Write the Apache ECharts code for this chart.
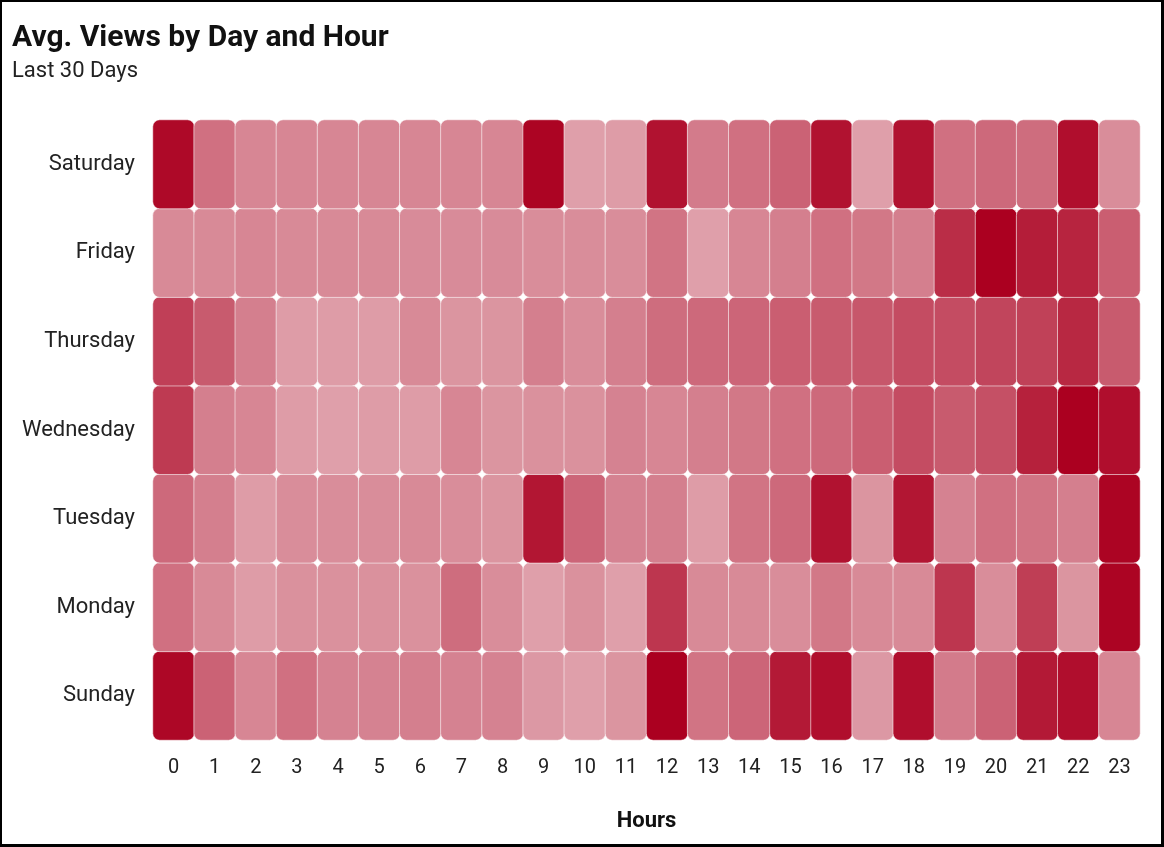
<!DOCTYPE html>
<html>
<head>
<meta charset="utf-8">
<script src="https://cdn.jsdelivr.net/npm/echarts@6/dist/echarts.min.js"></script>
<style>
  html, body { margin: 0; padding: 0; background: #fff; }
  #wrap { position: relative; width: 1164px; height: 847px; }
  #chart { position: absolute; left: 0; top: 0; width: 1164px; height: 847px; }
  #frame { position: absolute; left: 0; top: 0; width: 1164px; height: 847px; border-style: solid; border-color: #000; border-width: 2px 3px 3px 2px; box-sizing: border-box; pointer-events: none; }
</style>
</head>
<body>
<div id="wrap"><div id="chart"></div><div id="frame"></div></div>
<script>
const hours = ['0','1','2','3','4','5','6','7','8','9','10','11','12','13','14','15','16','17','18','19','20','21','22','23'];
const days = ['Sunday','Monday','Tuesday','Wednesday','Thursday','Friday','Saturday'];

const sunday    = [96,46,26,38,28,28,30,28,28,16,12,18,100,36,44,86,92,16,92,32,46,86,92,26];
const monday    = [38,24,14,20,20,20,20,40,22,12,20,12,70,24,24,22,34,24,24,70,22,66,18,98];
const tuesday   = [42,30,14,22,22,22,24,22,18,88,44,28,30,14,36,42,90,18,88,28,38,36,30,98];
const wednesday = [68,30,26,14,12,14,14,26,18,20,20,28,26,30,34,38,42,48,58,50,56,82,100,92];
const thursday  = [65,50,30,14,14,14,24,18,18,30,22,30,40,42,44,48,50,52,58,58,62,64,78,50];
const friday    = [24,24,26,24,24,24,23,23,23,22,22,22,36,12,26,30,38,34,30,75,100,84,80,48];
const saturday  = [95,38,26,26,26,26,26,26,26,98,12,14,90,32,38,46,90,12,90,38,42,40,92,22];

const rows = [sunday, monday, tuesday, wednesday, thursday, friday, saturday];
const data = [];
rows.forEach((row, d) => row.forEach((v, h) => data.push([h, d, v])));

const chart = echarts.init(document.getElementById('chart'));
const font = 'Roboto, "Noto Sans", sans-serif';
chart.setOption({
  animation: false,
  backgroundColor: '#fff',
  title: [
    { text: 'Avg. Views by Day and Hour', left: 12, top: 23, padding: 0,
      textStyle: { fontFamily: font, fontSize: 30, fontWeight: 'bold', color: '#111' } },
    { text: 'Last 30 Days', left: 12, top: 60, padding: 0,
      textStyle: { fontFamily: font, fontSize: 22, fontWeight: 'normal', color: '#222' } }
  ],
  grid: { left: 153, right: 24, top: 120, bottom: 107 },
  xAxis: {
    type: 'category', data: hours,
    name: 'Hours', nameLocation: 'middle', nameGap: 70,
    nameTextStyle: { fontFamily: font, fontSize: 22, fontWeight: 'bold', color: '#111' },
    axisLine: { show: false }, axisTick: { show: false }, splitLine: { show: false },
    axisLabel: { fontFamily: font, fontSize: 20, color: '#222', margin: 18 }
  },
  yAxis: {
    type: 'category', data: days,
    axisLine: { show: false }, axisTick: { show: false }, splitLine: { show: false },
    axisLabel: { fontFamily: font, fontSize: 22, color: '#222', margin: 18 }
  },
  visualMap: {
    show: false, min: 10, max: 100, dimension: 2,
    inRange: { color: ['#e0a3ad', '#ab0020'] }
  },
  series: [{
    type: 'heatmap',
    data: data,
    itemStyle: { borderRadius: 7, borderWidth: 1, borderColor: 'rgba(255,255,255,0.55)' },
    emphasis: { disabled: true }
  }]
});
</script>
</body>
</html>
